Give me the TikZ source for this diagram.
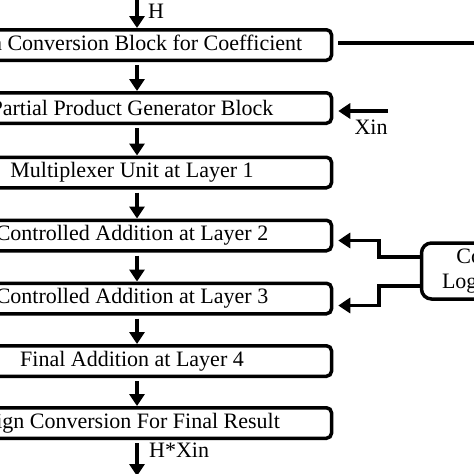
\documentclass[tikz,border=0pt]{standalone}
\usepackage{fontspec}
\setmainfont{Liberation Serif}
\usetikzlibrary{arrows.meta}
\begin{document}
\begin{tikzpicture}[x=1pt,y=-1pt,
  every node/.style={font=\fontsize{22}{25}\selectfont},
  blk/.style={draw,line width=3.5pt,rounded corners=5pt,minimum width=399pt,minimum height=30.5pt,inner sep=0pt},
  ctlbox/.style={draw,line width=3.5pt,rounded corners=10pt,minimum width=137pt,minimum height=56pt,inner sep=0pt,align=center},
  arr/.style={line width=3.5pt,-{Triangle[length=12pt,width=15pt]}},
  plain/.style={line width=3.5pt},
  lbl/.style={inner sep=0pt}]
\useasboundingbox (0,0) rectangle (474,474);
\clip (0,0) rectangle (474,474);
\fill[white] (0,0) rectangle (474,474);
\node[blk] (b1) at (132,45) {Sign Conversion Block for Coefficient};
\node[blk] (b2) at (132,108) {Partial Product Generator Block};
\node[blk] (b3) at (132,172.5) {Multiplexer Unit at Layer 1};
\node[blk] (b4) at (132,235.5) {Controlled Addition at Layer 2};
\node[blk] (b5) at (132,298.5) {Controlled Addition at Layer 3};
\node[blk] (b6) at (132,361) {Final Addition at Layer 4};
\node[blk] (b7) at (132,423) {Sign Conversion For Final Result};
\node[ctlbox] (ctl) at (490,271) {Control\\Logic Unit};
\coordinate (hin) at (137,-2);
\coordinate (hout) at (137,476);
\coordinate (xin) at (388,111);
\coordinate (r1) at (480,43);
\draw[arr] (hin) -- ([xshift=5pt]b1.north);
\node[lbl] (hl) at (156,11) {H};
\foreach \a/\b in {b1/b2,b2/b3,b3/b4,b4/b5,b5/b6,b6/b7}
  \draw[arr,shorten <=3pt] ([xshift=5pt]\a.south) -- ([xshift=5pt]\b.north);
\draw[arr,shorten <=3pt] ([xshift=5pt]b7.south) -- (hout);
\node[lbl,anchor=west] (hx) at (149,450) {H*Xin};
\draw[plain] ([xshift=5pt,yshift=2pt]b1.east) -- (r1);
\draw[arr,shorten >=5pt] (xin) -- ([yshift=-3pt]b2.east);
\node[lbl] (xl) at (371,127) {Xin};
\draw[arr,shorten >=5pt] ([yshift=14pt]ctl.west) -| (379,248) |- ([yshift=-5pt]b4.east);
\draw[arr,shorten >=5pt] ([yshift=-15pt]ctl.west) -| (379,295) |- ([yshift=-7pt]b5.east);
\end{tikzpicture}
\end{document}
